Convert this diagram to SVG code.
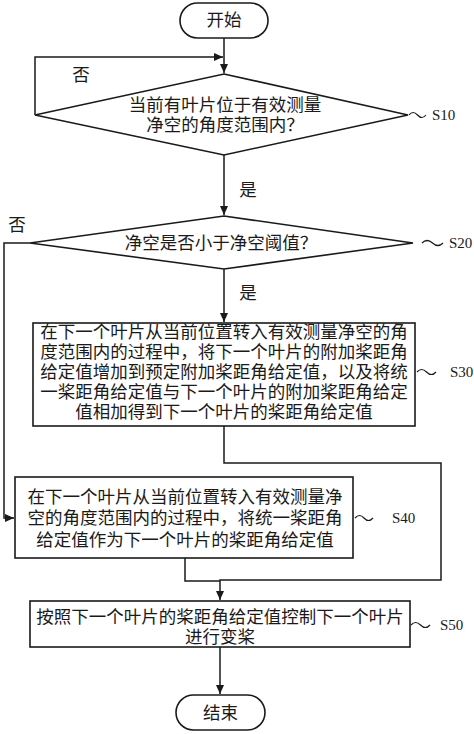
<svg xmlns="http://www.w3.org/2000/svg" width="474" height="734" viewBox="0 0 474 734">
<style>
.s{fill:#fff;stroke:#1a1a1a;stroke-width:1.6}
.c{fill:none;stroke:#1a1a1a;stroke-width:1.5}
.t{font-family:"Liberation Serif","Noto Sans CJK SC","Noto Sans CJK JP",sans-serif;font-size:17.5px;fill:#1a1a1a;text-anchor:middle}
.l{font-family:"Liberation Serif",serif;font-size:15px;fill:#1a1a1a}
.w{fill:none;stroke:#1a1a1a;stroke-width:1.2}
</style>
<defs>
<marker id="a" markerUnits="userSpaceOnUse" markerWidth="9" markerHeight="8" refX="9" refY="4" orient="auto">
<path d="M0,0 L9,4 L0,8 z" fill="#1a1a1a"/>
</marker>
</defs>
<g id="connectors">
<path class="c" d="M224,38 V73" marker-end="url(#a)"/>
<path class="c" d="M35,115 V57 H223" marker-end="url(#a)"/>
<path class="c" d="M224,155 V215" marker-end="url(#a)"/>
<path class="c" d="M224,269 V322" marker-end="url(#a)"/>
<path class="c" d="M30,243 H4 V518 H14" marker-end="url(#a)"/>
<path class="c" d="M224,426 V463 H441 V580 H220 V600" marker-end="url(#a)"/>
<path class="c" d="M185,558 V581 H220"/>
<path class="c" d="M220,647 V694" marker-end="url(#a)"/>
<text class="t" x="81" y="81">否</text>
<text class="t" x="248" y="196">是</text>
<text class="t" x="17" y="231">否</text>
<text class="t" x="248" y="299">是</text>
</g>
<g id="start">
<rect class="s" x="180" y="3" width="88" height="35" rx="17.5"/>
<text class="t" x="224" y="26">开始</text>
</g>
<g id="S10">
<polygon class="s" points="224,74 408,115 224,155 35,115"/>
<text class="t" x="225" y="111">当前有叶片位于有效测量</text>
<text class="t" x="225" y="131">净空的角度范围内？</text>
<path class="w" d="M409,115 q4,-5 8.5,0 t8.5,0"/>
<text class="l" x="432" y="120">S10</text>
</g>
<g id="S20">
<polygon class="s" points="224,216 413,243 224,269 30,243"/>
<text class="t" x="221" y="249">净空是否小于净空阈值？</text>
<path class="w" d="M422,243 q5,-5 10.5,0 t10.5,0"/>
<text class="l" x="449" y="248">S20</text>
</g>
<g id="S30">
<rect class="s" x="33" y="323" width="382" height="103"/>
<text class="t" x="224" y="338">在下一个叶片从当前位置转入有效测量净空的角</text>
<text class="t" x="224" y="358">度范围内的过程中，将下一个叶片的附加桨距角</text>
<text class="t" x="224" y="378">给定值增加到预定附加桨距角给定值，以及将统</text>
<text class="t" x="224" y="398">一桨距角给定值与下一个叶片的附加桨距角给定</text>
<text class="t" x="224" y="418">值相加得到下一个叶片的桨距角给定值</text>
<path class="w" d="M417,372 q4.5,-5 9.5,0 t9.5,0"/>
<text class="l" x="450" y="377">S30</text>
</g>
<g id="S40">
<rect class="s" x="15" y="477" width="338" height="81"/>
<text class="t" x="185" y="503">在下一个叶片从当前位置转入有效测量净</text>
<text class="t" x="185" y="524">空的角度范围内的过程中，将统一桨距角</text>
<text class="t" x="185" y="546">给定值作为下一个叶片的桨距角给定值</text>
<path class="w" d="M355,518 q4.5,-5 9,0 t9,0"/>
<text class="l" x="392" y="523">S40</text>
</g>
<g id="S50">
<rect class="s" x="30" y="601" width="380" height="46"/>
<text class="t" x="220" y="623">按照下一个叶片的桨距角给定值控制下一个叶片</text>
<text class="t" x="220" y="643">进行变桨</text>
<path class="w" d="M411,625 q4.5,-5 9.5,0 t9.5,0"/>
<text class="l" x="440" y="630">S50</text>
</g>
<g id="end">
<rect class="s" x="176" y="695" width="89" height="35" rx="17.5"/>
<text class="t" x="220.5" y="719">结束</text>
</g>
</svg>
